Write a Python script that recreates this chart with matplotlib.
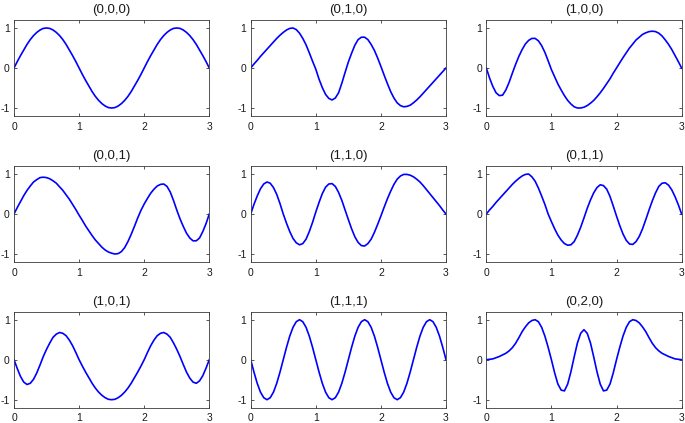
import numpy as np
import matplotlib
matplotlib.use("Agg")
import matplotlib.pyplot as plt

plt.rcParams['font.family'] = ['Liberation Sans', 'DejaVu Sans']
plt.rcParams['axes.unicode_minus'] = False

# sample positions along x (0 .. 3, step 0.05)
x_vals = np.linspace(0, 3, 61)

titles = ["(0,0,0)", "(0,1,0)", "(1,0,0)",
          "(0,0,1)", "(1,1,0)", "(0,1,1)",
          "(1,0,1)", "(1,1,1)", "(0,2,0)"]

y_000 = [0.00, 0.16, 0.31, 0.45, 0.59, 0.71, 0.81, 0.89, 0.95, 0.99,
         1.00, 0.99, 0.95, 0.89, 0.81, 0.71, 0.59, 0.45, 0.31, 0.16,
         0.00, -0.16, -0.31, -0.45, -0.59, -0.71, -0.81, -0.89, -0.95, -0.99,
         -1.00, -0.99, -0.95, -0.89, -0.81, -0.71, -0.59, -0.45, -0.31, -0.16,
         0.00, 0.16, 0.31, 0.45, 0.59, 0.71, 0.81, 0.89, 0.95, 0.99,
         1.00, 0.99, 0.95, 0.89, 0.81, 0.71, 0.59, 0.45, 0.31, 0.16, 0.00]

y_010 = [0.00, 0.10, 0.19, 0.29, 0.38, 0.47, 0.56, 0.65, 0.74, 0.82,
         0.89, 0.95, 0.99, 1.00, 0.96, 0.87, 0.74, 0.58, 0.38, 0.17,
         -0.03, -0.28, -0.49, -0.66, -0.76, -0.80, -0.75, -0.62, -0.38, -0.11,
         0.15, 0.37, 0.57, 0.71, 0.77, 0.77, 0.71, 0.59, 0.44, 0.25,
         0.04, -0.18, -0.39, -0.59, -0.75, -0.87, -0.94, -0.97, -0.96, -0.93,
         -0.87, -0.80, -0.72, -0.63, -0.54, -0.45, -0.36, -0.27, -0.18, -0.09, 0.00]

y_100 = [0.00, -0.25, -0.46, -0.62, -0.69, -0.68, -0.55, -0.36, -0.13, 0.09,
         0.29, 0.46, 0.60, 0.69, 0.74, 0.74, 0.68, 0.56, 0.39, 0.18,
         -0.04, -0.22, -0.40, -0.55, -0.69, -0.81, -0.90, -0.97, -1.00, -1.00,
         -0.98, -0.94, -0.88, -0.81, -0.72, -0.62, -0.51, -0.39, -0.27, -0.13,
         0.00, 0.13, 0.26, 0.38, 0.50, 0.60, 0.70, 0.77, 0.84, 0.88,
         0.91, 0.92, 0.91, 0.87, 0.80, 0.70, 0.59, 0.46, 0.31, 0.16, 0.00]

y_001 = [0.00, 0.16, 0.31, 0.46, 0.59, 0.70, 0.80, 0.86, 0.91, 0.92,
         0.91, 0.88, 0.83, 0.77, 0.68, 0.59, 0.48, 0.37, 0.24, 0.11,
         -0.03, -0.16, -0.30, -0.42, -0.54, -0.65, -0.74, -0.83, -0.90, -0.95,
         -0.98, -1.00, -0.99, -0.94, -0.84, -0.69, -0.51, -0.31, -0.10, 0.09,
         0.25, 0.39, 0.52, 0.62, 0.70, 0.74, 0.75, 0.69, 0.55, 0.34,
         0.10, -0.12, -0.31, -0.48, -0.60, -0.67, -0.67, -0.60, -0.44, -0.24, 0.00]

y_110 = [0.00, 0.24, 0.45, 0.63, 0.75, 0.80, 0.77, 0.66, 0.49, 0.26,
         0.00, -0.23, -0.44, -0.61, -0.72, -0.77, -0.74, -0.63, -0.44, -0.21,
         0.05, 0.29, 0.51, 0.67, 0.75, 0.76, 0.69, 0.54, 0.34, 0.10,
         -0.14, -0.37, -0.57, -0.71, -0.79, -0.80, -0.74, -0.63, -0.46, -0.26,
         -0.05, 0.17, 0.38, 0.57, 0.74, 0.87, 0.95, 0.99, 0.99, 0.97,
         0.93, 0.87, 0.80, 0.71, 0.61, 0.51, 0.41, 0.31, 0.21, 0.10, 0.00]

y_011 = [0.00, 0.10, 0.19, 0.29, 0.38, 0.47, 0.56, 0.65, 0.74, 0.82,
         0.89, 0.95, 0.99, 1.00, 0.93, 0.82, 0.65, 0.45, 0.24, 0.00,
         -0.19, -0.37, -0.53, -0.65, -0.74, -0.78, -0.77, -0.69, -0.53, -0.33,
         -0.10, 0.14, 0.35, 0.53, 0.66, 0.73, 0.71, 0.62, 0.44, 0.20,
         -0.05, -0.29, -0.50, -0.66, -0.75, -0.76, -0.69, -0.56, -0.37, -0.14,
         0.10, 0.33, 0.53, 0.69, 0.77, 0.78, 0.72, 0.60, 0.43, 0.23, 0.00]

y_101 = [0.00, -0.22, -0.42, -0.56, -0.62, -0.59, -0.49, -0.33, -0.13, 0.08,
         0.26, 0.42, 0.56, 0.64, 0.68, 0.66, 0.60, 0.49, 0.35, 0.18,
         0.00, -0.16, -0.31, -0.45, -0.59, -0.71, -0.81, -0.89, -0.95, -0.99,
         -1.00, -0.99, -0.95, -0.89, -0.81, -0.71, -0.59, -0.45, -0.31, -0.16,
         0.00, 0.18, 0.35, 0.49, 0.60, 0.66, 0.68, 0.64, 0.56, 0.42,
         0.26, 0.08, -0.12, -0.31, -0.46, -0.56, -0.59, -0.53, -0.40, -0.21, 0.00]

y_111 = [0.00, -0.31, -0.59, -0.81, -0.95, -1.00, -0.95, -0.81, -0.59, -0.31,
         0.00, 0.31, 0.59, 0.81, 0.95, 1.00, 0.95, 0.81, 0.59, 0.31,
         0.00, -0.31, -0.59, -0.81, -0.95, -1.00, -0.95, -0.81, -0.59, -0.31,
         0.00, 0.31, 0.59, 0.81, 0.95, 1.00, 0.95, 0.81, 0.59, 0.31,
         0.00, -0.31, -0.59, -0.81, -0.95, -1.00, -0.95, -0.81, -0.59, -0.31,
         0.00, 0.31, 0.59, 0.81, 0.95, 1.00, 0.95, 0.81, 0.59, 0.31, 0.00]

y_020 = [0.00, 0.01, 0.02, 0.05, 0.08, 0.12, 0.16, 0.22, 0.30, 0.41,
         0.55, 0.70, 0.82, 0.92, 0.98, 1.00, 0.95, 0.81, 0.59, 0.31,
         0.00, -0.33, -0.61, -0.76, -0.78, -0.61, -0.30, 0.07, 0.42, 0.66,
         0.75, 0.66, 0.42, 0.07, -0.30, -0.61, -0.78, -0.76, -0.61, -0.33,
         0.00, 0.31, 0.59, 0.81, 0.95, 1.00, 0.98, 0.92, 0.82, 0.70,
         0.55, 0.41, 0.30, 0.22, 0.16, 0.12, 0.08, 0.05, 0.02, 0.01, 0.00]

series = [y_000, y_010, y_100, y_001, y_110, y_011, y_101, y_111, y_020]

x_ticks = [0, 1, 2, 3]
y_ticks = [-1, 0, 1]

W, H = 685, 423
fig = plt.figure(figsize=(W / 100, H / 100), dpi=100)

col_left = [14, 250.7, 486.3]
col_w = 195.3
row_top = [20, 166, 311.7]
row_h = 96

frame_col = '#3a3a3a'
for i, (title, ys) in enumerate(zip(titles, series)):
    r, c = divmod(i, 3)
    ax = fig.add_axes([col_left[c] / W, (H - row_top[r] - row_h) / H,
                       col_w / W, row_h / H])
    ax.plot(x_vals, ys, color='#0000ff', lw=1.2)
    ax.set_xlim(0, 3)
    ax.set_ylim(-1.2, 1.2)
    ax.set_xticks(x_ticks)
    ax.set_yticks(y_ticks)
    ax.tick_params(direction='in', length=2.5, width=0.6, colors=frame_col,
                   labelcolor='#1a1a1a', labelsize=7.5, top=True, right=True)
    ax.tick_params(axis='x', pad=4)
    ax.tick_params(axis='y', pad=3)
    for sp in ax.spines.values():
        sp.set_color(frame_col)
        sp.set_linewidth(0.6)
    ax.set_title(title, fontsize=9.5, pad=5, color='#1a1a1a')

fig.savefig('out.png', dpi=100)
